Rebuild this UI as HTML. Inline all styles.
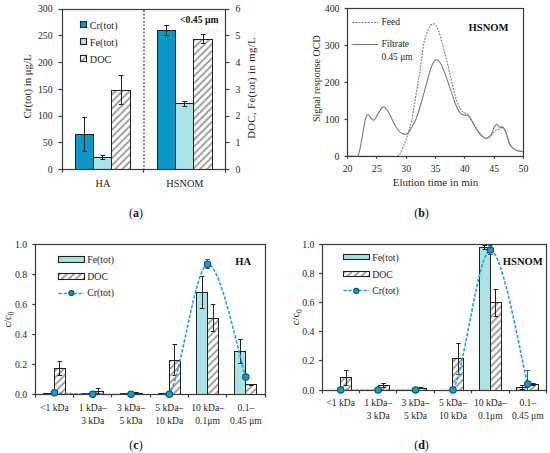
<!DOCTYPE html><html><head><meta charset="utf-8"><style>html,body{margin:0;padding:0;background:#fff;width:550px;height:453px;overflow:hidden}svg{display:block}text{font-family:"Liberation Serif",serif}</style></head><body><svg width="550" height="453" viewBox="0 0 550 453" font-family='"Liberation Serif", serif'>
<defs><pattern id="hatch" patternUnits="userSpaceOnUse" width="5" height="5" patternTransform="rotate(45)"><rect width="5" height="5" fill="#fff"/><line x1="1" y1="0" x2="1" y2="5" stroke="#5c5c5c" stroke-width="1.15"/></pattern>
<clipPath id="clipb"><rect x="347.6" y="8.2" width="175.9" height="148"/></clipPath><clipPath id="clipc"><rect x="35.3" y="200" width="229.7" height="194.5"/></clipPath><clipPath id="clipd"><rect x="322" y="200" width="224.5" height="190.2"/></clipPath></defs>
<rect width="550" height="453" fill="#fff"/>
<line x1="144.00" y1="10.00" x2="144.00" y2="169.60" stroke="#7a7a7a" stroke-width="1.80" stroke-dasharray="1.9,1.7"/>
<rect x="75.50" y="134.50" width="18.00" height="35.00" fill="#0b96c6" stroke="#222" stroke-width="1.00"/>
<rect x="93.50" y="157.50" width="18.00" height="12.00" fill="#abe2e5" stroke="#222" stroke-width="1.00"/>
<rect x="111.50" y="90.50" width="19.00" height="79.00" fill="url(#hatch)" stroke="#222" stroke-width="1.00"/>
<rect x="157.50" y="30.50" width="18.00" height="139.00" fill="#0b96c6" stroke="#222" stroke-width="1.00"/>
<rect x="175.50" y="103.50" width="18.00" height="66.00" fill="#abe2e5" stroke="#222" stroke-width="1.00"/>
<rect x="193.50" y="39.50" width="19.00" height="130.00" fill="url(#hatch)" stroke="#222" stroke-width="1.00"/>
<line x1="84.50" y1="117.14" x2="84.50" y2="151.93" stroke="#222" stroke-width="1.00" />
<line x1="82.35" y1="117.50" x2="86.95" y2="117.50" stroke="#222" stroke-width="1.00" />
<line x1="82.35" y1="151.50" x2="86.95" y2="151.50" stroke="#222" stroke-width="1.00" />
<line x1="102.50" y1="155.68" x2="102.50" y2="159.43" stroke="#222" stroke-width="1.00" />
<line x1="100.60" y1="155.50" x2="105.20" y2="155.50" stroke="#222" stroke-width="1.00" />
<line x1="100.60" y1="159.50" x2="105.20" y2="159.50" stroke="#222" stroke-width="1.00" />
<line x1="121.50" y1="75.11" x2="121.50" y2="104.82" stroke="#222" stroke-width="1.00" />
<line x1="118.85" y1="75.50" x2="123.45" y2="75.50" stroke="#222" stroke-width="1.00" />
<line x1="118.85" y1="104.50" x2="123.45" y2="104.50" stroke="#222" stroke-width="1.00" />
<line x1="166.50" y1="25.06" x2="166.50" y2="35.77" stroke="#222" stroke-width="1.00" />
<line x1="164.35" y1="25.50" x2="168.95" y2="25.50" stroke="#222" stroke-width="1.00" />
<line x1="164.35" y1="35.50" x2="168.95" y2="35.50" stroke="#222" stroke-width="1.00" />
<line x1="184.50" y1="101.34" x2="184.50" y2="106.16" stroke="#222" stroke-width="1.00" />
<line x1="182.60" y1="101.50" x2="187.20" y2="101.50" stroke="#222" stroke-width="1.00" />
<line x1="182.60" y1="106.50" x2="187.20" y2="106.50" stroke="#222" stroke-width="1.00" />
<line x1="203.50" y1="34.96" x2="203.50" y2="43.80" stroke="#222" stroke-width="1.00" />
<line x1="200.85" y1="34.50" x2="205.45" y2="34.50" stroke="#222" stroke-width="1.00" />
<line x1="200.85" y1="43.50" x2="205.45" y2="43.50" stroke="#222" stroke-width="1.00" />
<rect x="62.50" y="9.50" width="163.00" height="160.00" fill="none" stroke="#3a3a3a" stroke-width="1.2"/>
<line x1="58.50" y1="169.50" x2="62.00" y2="169.50" stroke="#3a3a3a" stroke-width="1.20" />
<text x="52.60" y="173.00" font-size="9.80" text-anchor="end" font-weight="normal" fill="#262626" >0</text>
<line x1="58.50" y1="142.50" x2="62.00" y2="142.50" stroke="#3a3a3a" stroke-width="1.20" />
<text x="52.60" y="146.23" font-size="9.80" text-anchor="end" font-weight="normal" fill="#262626" >50</text>
<line x1="58.50" y1="116.50" x2="62.00" y2="116.50" stroke="#3a3a3a" stroke-width="1.20" />
<text x="52.60" y="119.47" font-size="9.80" text-anchor="end" font-weight="normal" fill="#262626" >100</text>
<line x1="58.50" y1="89.50" x2="62.00" y2="89.50" stroke="#3a3a3a" stroke-width="1.20" />
<text x="52.60" y="92.70" font-size="9.80" text-anchor="end" font-weight="normal" fill="#262626" >150</text>
<line x1="58.50" y1="62.50" x2="62.00" y2="62.50" stroke="#3a3a3a" stroke-width="1.20" />
<text x="52.60" y="65.93" font-size="9.80" text-anchor="end" font-weight="normal" fill="#262626" >200</text>
<line x1="58.50" y1="35.50" x2="62.00" y2="35.50" stroke="#3a3a3a" stroke-width="1.20" />
<text x="52.60" y="39.17" font-size="9.80" text-anchor="end" font-weight="normal" fill="#262626" >250</text>
<line x1="58.50" y1="9.50" x2="62.00" y2="9.50" stroke="#3a3a3a" stroke-width="1.20" />
<text x="52.60" y="12.40" font-size="9.80" text-anchor="end" font-weight="normal" fill="#262626" >300</text>
<line x1="225.90" y1="169.50" x2="229.40" y2="169.50" stroke="#3a3a3a" stroke-width="1.20" />
<text x="235.60" y="173.00" font-size="9.80" text-anchor="start" font-weight="normal" fill="#262626" >0</text>
<line x1="225.90" y1="142.50" x2="229.40" y2="142.50" stroke="#3a3a3a" stroke-width="1.20" />
<text x="235.60" y="146.23" font-size="9.80" text-anchor="start" font-weight="normal" fill="#262626" >1</text>
<line x1="225.90" y1="116.50" x2="229.40" y2="116.50" stroke="#3a3a3a" stroke-width="1.20" />
<text x="235.60" y="119.47" font-size="9.80" text-anchor="start" font-weight="normal" fill="#262626" >2</text>
<line x1="225.90" y1="89.50" x2="229.40" y2="89.50" stroke="#3a3a3a" stroke-width="1.20" />
<text x="235.60" y="92.70" font-size="9.80" text-anchor="start" font-weight="normal" fill="#262626" >3</text>
<line x1="225.90" y1="62.50" x2="229.40" y2="62.50" stroke="#3a3a3a" stroke-width="1.20" />
<text x="235.60" y="65.93" font-size="9.80" text-anchor="start" font-weight="normal" fill="#262626" >4</text>
<line x1="225.90" y1="35.50" x2="229.40" y2="35.50" stroke="#3a3a3a" stroke-width="1.20" />
<text x="235.60" y="39.17" font-size="9.80" text-anchor="start" font-weight="normal" fill="#262626" >5</text>
<line x1="225.90" y1="9.50" x2="229.40" y2="9.50" stroke="#3a3a3a" stroke-width="1.20" />
<text x="235.60" y="12.40" font-size="9.80" text-anchor="start" font-weight="normal" fill="#262626" >6</text>
<line x1="62.50" y1="169.60" x2="62.50" y2="172.60" stroke="#3a3a3a" stroke-width="1.20" />
<line x1="143.50" y1="169.60" x2="143.50" y2="172.60" stroke="#3a3a3a" stroke-width="1.20" />
<line x1="225.50" y1="169.60" x2="225.50" y2="172.60" stroke="#3a3a3a" stroke-width="1.20" />
<text x="102.90" y="186.90" font-size="10.30" text-anchor="middle" font-weight="normal" fill="#262626" >HA</text>
<text x="184.90" y="186.90" font-size="10.30" text-anchor="middle" font-weight="normal" fill="#262626" >HSNOM</text>
<text x="31.50" y="86.40" font-size="10.80" text-anchor="middle" font-weight="normal" fill="#262626" transform="rotate(-90 31.5 86.4)">Cr(tot) in μg/L</text>
<text x="255.00" y="88.10" font-size="10.60" text-anchor="middle" font-weight="normal" fill="#262626" textLength="101.4" lengthAdjust="spacing" transform="rotate(-90 255 88.1)">DOC, Fe(tot) in mg/L</text>
<text x="218.50" y="23.20" font-size="9.70" text-anchor="end" font-weight="bold" fill="#111" >&lt;0.45 μm</text>
<rect x="80.50" y="21.50" width="6.00" height="6.00" fill="#0b96c6" stroke="#222" stroke-width="1.10"/>
<text x="89.80" y="29.10" font-size="10.20" text-anchor="start" font-weight="normal" fill="#262626" >Cr(tot)</text>
<rect x="80.50" y="38.50" width="6.00" height="6.00" fill="#abe2e5" stroke="#222" stroke-width="1.10"/>
<text x="89.80" y="46.10" font-size="10.20" text-anchor="start" font-weight="normal" fill="#262626" >Fe(tot)</text>
<rect x="80.50" y="55.50" width="6.00" height="6.00" fill="url(#hatch)" stroke="#222" stroke-width="1.10"/>
<text x="89.80" y="63.10" font-size="10.20" text-anchor="start" font-weight="normal" fill="#262626" >DOC</text>
<text x="136.00" y="217.40" font-size="12.00" text-anchor="middle" font-weight="normal" fill="#111" >(<tspan font-weight="bold">a</tspan>)</text>
<path clip-path="url(#clipb)" d="M347.60,156.20 C362.26,156.20 376.92,156.20 391.58,156.20 C393.43,156.20 395.29,157.26 397.15,156.20 C398.02,155.70 398.90,155.21 399.78,153.98 C400.76,152.61 401.74,150.28 402.72,148.06 C403.69,145.84 404.67,143.37 405.65,140.66 C406.62,137.95 407.60,135.05 408.58,131.78 C409.56,128.51 410.53,125.61 411.51,121.05 C412.49,116.49 413.46,110.26 414.44,104.40 C415.42,98.54 416.40,91.64 417.37,85.90 C418.16,81.31 418.94,77.79 419.72,72.95 C420.99,65.08 422.26,52.14 423.53,45.20 C425.00,37.19 426.46,33.92 427.93,30.40 C429.76,25.99 431.60,23.61 433.44,23.81 C435.12,24.00 436.80,26.25 438.48,30.40 C439.91,33.92 441.34,39.97 442.76,45.20 C445.24,54.30 447.73,64.90 450.21,75.17 C451.79,81.72 453.37,89.74 454.96,95.15 C456.31,99.76 457.65,103.38 459.00,106.25 C460.10,108.58 461.19,110.52 462.29,111.61 C463.15,112.47 464.01,112.49 464.87,112.91 C465.77,113.35 466.66,113.28 467.56,114.20 C468.40,115.07 469.24,116.77 470.09,118.09 C471.67,120.58 473.25,123.34 474.83,125.86 C476.61,128.69 478.39,132.06 480.17,134.11 C482.10,136.34 484.04,138.22 485.97,138.29 C487.15,138.33 488.32,137.76 489.49,136.96 C490.31,136.40 491.13,135.54 491.96,134.74 C493.36,133.37 494.77,131.02 496.18,130.11 C497.41,129.32 498.64,129.91 499.87,129.19 C500.77,128.67 501.67,126.69 502.57,126.97 C503.49,127.26 504.41,129.16 505.32,131.04 C506.81,134.07 508.29,141.14 509.78,144.21 C511.56,147.90 513.34,148.33 515.12,149.61 C517.91,151.63 520.71,151.07 523.50,151.80" fill="none" stroke="#5f7878" stroke-width="1.1" stroke-dasharray="1.8,1.3"/>
<path clip-path="url(#clipb)" d="M347.60,156.20 C349.95,156.20 352.29,156.20 354.64,156.20 C355.81,156.20 356.98,158.75 358.15,156.20 C359.60,153.05 361.05,142.82 362.49,135.11 C363.39,130.32 364.29,123.36 365.19,119.94 C366.07,116.60 366.95,115.04 367.83,114.61 C368.71,114.18 369.59,116.48 370.47,117.35 C371.48,118.36 372.50,120.16 373.52,120.20 C375.24,120.26 376.96,114.77 378.68,112.54 C380.36,110.36 382.04,106.87 383.72,106.92 C385.36,106.96 387.00,110.02 388.64,112.54 C390.70,115.69 392.75,121.58 394.80,125.01 C396.54,127.91 398.28,130.59 400.02,132.15 C401.82,133.76 403.61,134.65 405.41,134.37 C406.27,134.23 407.13,134.03 407.99,133.26 C409.36,132.04 410.73,129.02 412.10,126.60 C413.27,124.53 414.44,122.65 415.61,119.94 C417.80,114.88 419.99,107.07 422.18,99.59 C423.96,93.51 425.74,86.08 427.52,79.98 C429.22,74.15 430.92,67.04 432.62,63.70 C433.97,61.05 435.32,59.74 436.66,59.70 C438.05,59.67 439.44,61.40 440.83,63.70 C442.39,66.29 443.95,71.05 445.52,75.17 C447.80,81.20 450.09,88.65 452.38,95.15 C453.61,98.65 454.84,102.66 456.07,105.51 C457.69,109.27 459.32,112.10 460.94,113.65 C462.25,114.90 463.56,114.80 464.87,115.13 C466.00,115.41 467.13,114.68 468.27,115.61 C469.09,116.28 469.91,117.61 470.73,118.83 C472.29,121.15 473.86,124.81 475.42,127.34 C477.00,129.91 478.59,132.36 480.17,134.11 C482.10,136.26 484.04,138.35 485.97,138.29 C487.15,138.26 488.32,137.83 489.49,136.59 C490.31,135.72 491.13,134.66 491.96,133.00 C492.70,131.50 493.44,128.81 494.18,127.34 C494.85,126.03 495.51,124.87 496.18,124.42 C497.41,123.59 498.64,127.03 499.87,127.34 C500.77,127.57 501.67,126.38 502.57,126.97 C503.49,127.58 504.41,129.16 505.32,131.04 C506.81,134.07 508.29,141.14 509.78,144.21 C511.56,147.90 513.34,148.33 515.12,149.61 C517.91,151.63 520.71,151.07 523.50,151.80" fill="none" stroke="#7a7a7a" stroke-width="1.1"/>
<rect x="347.50" y="8.50" width="176.00" height="148.00" fill="none" stroke="#3a3a3a" stroke-width="1.2"/>
<line x1="344.60" y1="156.50" x2="347.60" y2="156.50" stroke="#3a3a3a" stroke-width="1.20" />
<text x="339.50" y="159.60" font-size="9.80" text-anchor="end" font-weight="normal" fill="#262626" >0</text>
<line x1="344.60" y1="119.50" x2="347.60" y2="119.50" stroke="#3a3a3a" stroke-width="1.20" />
<text x="339.50" y="122.60" font-size="9.80" text-anchor="end" font-weight="normal" fill="#262626" >100</text>
<line x1="344.60" y1="82.50" x2="347.60" y2="82.50" stroke="#3a3a3a" stroke-width="1.20" />
<text x="339.50" y="85.60" font-size="9.80" text-anchor="end" font-weight="normal" fill="#262626" >200</text>
<line x1="344.60" y1="45.50" x2="347.60" y2="45.50" stroke="#3a3a3a" stroke-width="1.20" />
<text x="339.50" y="48.60" font-size="9.80" text-anchor="end" font-weight="normal" fill="#262626" >300</text>
<line x1="344.60" y1="8.50" x2="347.60" y2="8.50" stroke="#3a3a3a" stroke-width="1.20" />
<text x="339.50" y="11.60" font-size="9.80" text-anchor="end" font-weight="normal" fill="#262626" >400</text>
<line x1="347.50" y1="156.20" x2="347.50" y2="158.70" stroke="#3a3a3a" stroke-width="1.20" />
<text x="347.60" y="171.80" font-size="9.80" text-anchor="middle" font-weight="normal" fill="#262626" >20</text>
<line x1="376.50" y1="156.20" x2="376.50" y2="158.70" stroke="#3a3a3a" stroke-width="1.20" />
<text x="376.92" y="171.80" font-size="9.80" text-anchor="middle" font-weight="normal" fill="#262626" >25</text>
<line x1="406.50" y1="156.20" x2="406.50" y2="158.70" stroke="#3a3a3a" stroke-width="1.20" />
<text x="406.23" y="171.80" font-size="9.80" text-anchor="middle" font-weight="normal" fill="#262626" >30</text>
<line x1="435.50" y1="156.20" x2="435.50" y2="158.70" stroke="#3a3a3a" stroke-width="1.20" />
<text x="435.55" y="171.80" font-size="9.80" text-anchor="middle" font-weight="normal" fill="#262626" >35</text>
<line x1="464.50" y1="156.20" x2="464.50" y2="158.70" stroke="#3a3a3a" stroke-width="1.20" />
<text x="464.87" y="171.80" font-size="9.80" text-anchor="middle" font-weight="normal" fill="#262626" >40</text>
<line x1="494.50" y1="156.20" x2="494.50" y2="158.70" stroke="#3a3a3a" stroke-width="1.20" />
<text x="494.18" y="171.80" font-size="9.80" text-anchor="middle" font-weight="normal" fill="#262626" >45</text>
<line x1="523.50" y1="156.20" x2="523.50" y2="158.70" stroke="#3a3a3a" stroke-width="1.20" />
<text x="523.50" y="171.80" font-size="9.80" text-anchor="middle" font-weight="normal" fill="#262626" >50</text>
<text x="435.50" y="185.50" font-size="10.95" text-anchor="middle" font-weight="normal" fill="#262626" >Elution time in min</text>
<text x="320.00" y="78.70" font-size="10.00" text-anchor="middle" font-weight="normal" fill="#262626" transform="rotate(-90 320 78.7)">Signal response OCD</text>
<line x1="352.30" y1="22.50" x2="378.20" y2="22.50" stroke="#5f7878" stroke-width="1.10" stroke-dasharray="1.8,1.3"/>
<line x1="352.30" y1="44.50" x2="378.20" y2="44.50" stroke="#7a7a7a" stroke-width="1.10" />
<text x="381.40" y="24.80" font-size="9.60" text-anchor="start" font-weight="normal" fill="#262626" >Feed</text>
<text x="381.40" y="47.10" font-size="9.60" text-anchor="start" font-weight="normal" fill="#262626" >Filtrate</text>
<text x="381.40" y="59.50" font-size="9.40" text-anchor="start" font-weight="normal" fill="#262626" >0.45 μm</text>
<text x="488.60" y="31.40" font-size="10.60" text-anchor="middle" font-weight="bold" fill="#111" >HSNOM</text>
<text x="421.50" y="217.40" font-size="12.00" text-anchor="middle" font-weight="normal" fill="#111" >(<tspan font-weight="bold">b</tspan>)</text>
<rect x="43.50" y="393.50" width="11.00" height="1.00" fill="#abe2e5" stroke="#222" stroke-width="1.00"/>
<rect x="54.50" y="368.50" width="11.00" height="26.00" fill="url(#hatch)" stroke="#222" stroke-width="1.00"/>
<rect x="81.50" y="393.50" width="11.00" height="1.00" fill="#abe2e5" stroke="#222" stroke-width="1.00"/>
<rect x="92.50" y="391.50" width="11.00" height="3.00" fill="url(#hatch)" stroke="#222" stroke-width="1.00"/>
<rect x="120.50" y="393.50" width="11.00" height="1.00" fill="#abe2e5" stroke="#222" stroke-width="1.00"/>
<rect x="131.50" y="393.50" width="11.00" height="1.00" fill="url(#hatch)" stroke="#222" stroke-width="1.00"/>
<rect x="158.50" y="393.50" width="11.00" height="1.00" fill="#abe2e5" stroke="#222" stroke-width="1.00"/>
<rect x="169.50" y="360.50" width="11.00" height="34.00" fill="url(#hatch)" stroke="#222" stroke-width="1.00"/>
<rect x="196.50" y="292.50" width="11.00" height="102.00" fill="#abe2e5" stroke="#222" stroke-width="1.00"/>
<rect x="207.50" y="318.50" width="11.00" height="76.00" fill="url(#hatch)" stroke="#222" stroke-width="1.00"/>
<rect x="234.50" y="351.50" width="11.00" height="43.00" fill="#abe2e5" stroke="#222" stroke-width="1.00"/>
<rect x="245.50" y="384.50" width="11.00" height="10.00" fill="url(#hatch)" stroke="#222" stroke-width="1.00"/>
<line x1="59.50" y1="361.39" x2="59.50" y2="375.33" stroke="#222" stroke-width="1.00" />
<line x1="57.69" y1="361.50" x2="62.19" y2="361.50" stroke="#222" stroke-width="1.00" />
<line x1="57.69" y1="375.50" x2="62.19" y2="375.50" stroke="#222" stroke-width="1.00" />
<line x1="98.50" y1="388.96" x2="98.50" y2="393.75" stroke="#222" stroke-width="1.00" />
<line x1="95.97" y1="388.50" x2="100.47" y2="388.50" stroke="#222" stroke-width="1.00" />
<line x1="95.97" y1="393.50" x2="100.47" y2="393.50" stroke="#222" stroke-width="1.00" />
<line x1="136.50" y1="392.25" x2="136.50" y2="393.75" stroke="#222" stroke-width="1.00" />
<line x1="134.26" y1="392.50" x2="138.76" y2="392.50" stroke="#222" stroke-width="1.00" />
<line x1="134.26" y1="393.50" x2="138.76" y2="393.50" stroke="#222" stroke-width="1.00" />
<line x1="174.50" y1="344.02" x2="174.50" y2="375.33" stroke="#222" stroke-width="1.00" />
<line x1="172.54" y1="344.50" x2="177.04" y2="344.50" stroke="#222" stroke-width="1.00" />
<line x1="172.54" y1="375.50" x2="177.04" y2="375.50" stroke="#222" stroke-width="1.00" />
<line x1="202.50" y1="276.61" x2="202.50" y2="308.81" stroke="#222" stroke-width="1.00" />
<line x1="199.82" y1="276.50" x2="204.32" y2="276.50" stroke="#222" stroke-width="1.00" />
<line x1="199.82" y1="308.50" x2="204.32" y2="308.50" stroke="#222" stroke-width="1.00" />
<line x1="213.50" y1="304.92" x2="213.50" y2="331.88" stroke="#222" stroke-width="1.00" />
<line x1="210.82" y1="304.50" x2="215.32" y2="304.50" stroke="#222" stroke-width="1.00" />
<line x1="210.82" y1="331.50" x2="215.32" y2="331.50" stroke="#222" stroke-width="1.00" />
<line x1="240.50" y1="339.52" x2="240.50" y2="363.49" stroke="#222" stroke-width="1.00" />
<line x1="238.11" y1="339.50" x2="242.61" y2="339.50" stroke="#222" stroke-width="1.00" />
<line x1="238.11" y1="363.50" x2="242.61" y2="363.50" stroke="#222" stroke-width="1.00" />
<line x1="251.50" y1="384.01" x2="251.50" y2="385.21" stroke="#222" stroke-width="1.00" />
<line x1="249.11" y1="384.50" x2="253.61" y2="384.50" stroke="#222" stroke-width="1.00" />
<line x1="249.11" y1="385.50" x2="253.61" y2="385.50" stroke="#222" stroke-width="1.00" />
<path clip-path="url(#clipc)" d="M54.44,393.00 C60.82,393.25 79.96,394.25 92.72,394.50 C105.49,394.75 118.25,394.50 131.01,394.50 C143.77,394.50 156.53,416.17 169.29,394.50 C182.05,372.83 194.81,267.32 207.57,264.47 C220.34,261.63 239.48,358.60 245.86,377.42" fill="none" stroke="#1fa3d8" stroke-width="1.6" stroke-dasharray="3.4,1.6"/>
<line x1="207.50" y1="259.38" x2="207.50" y2="268.97" stroke="#555" stroke-width="1.00" />
<line x1="205.32" y1="259.50" x2="209.82" y2="259.50" stroke="#555" stroke-width="1.00" />
<line x1="205.32" y1="268.50" x2="209.82" y2="268.50" stroke="#555" stroke-width="1.00" />
<rect x="35.50" y="244.50" width="230.00" height="150.00" fill="none" stroke="#3a3a3a" stroke-width="1.2"/>
<line x1="32.30" y1="394.50" x2="35.30" y2="394.50" stroke="#3a3a3a" stroke-width="1.20" />
<text x="27.20" y="397.90" font-size="9.80" text-anchor="end" font-weight="normal" fill="#262626" >0.0</text>
<line x1="32.30" y1="364.50" x2="35.30" y2="364.50" stroke="#3a3a3a" stroke-width="1.20" />
<text x="27.20" y="367.94" font-size="9.80" text-anchor="end" font-weight="normal" fill="#262626" >0.2</text>
<line x1="32.30" y1="334.50" x2="35.30" y2="334.50" stroke="#3a3a3a" stroke-width="1.20" />
<text x="27.20" y="337.98" font-size="9.80" text-anchor="end" font-weight="normal" fill="#262626" >0.4</text>
<line x1="32.30" y1="304.50" x2="35.30" y2="304.50" stroke="#3a3a3a" stroke-width="1.20" />
<text x="27.20" y="308.02" font-size="9.80" text-anchor="end" font-weight="normal" fill="#262626" >0.6</text>
<line x1="32.30" y1="274.50" x2="35.30" y2="274.50" stroke="#3a3a3a" stroke-width="1.20" />
<text x="27.20" y="278.06" font-size="9.80" text-anchor="end" font-weight="normal" fill="#262626" >0.8</text>
<line x1="32.30" y1="244.50" x2="35.30" y2="244.50" stroke="#3a3a3a" stroke-width="1.20" />
<text x="27.20" y="248.10" font-size="9.80" text-anchor="end" font-weight="normal" fill="#262626" >1.0</text>
<line x1="35.50" y1="394.50" x2="35.50" y2="397.50" stroke="#3a3a3a" stroke-width="1.20" />
<line x1="73.50" y1="394.50" x2="73.50" y2="397.50" stroke="#3a3a3a" stroke-width="1.20" />
<line x1="111.50" y1="394.50" x2="111.50" y2="397.50" stroke="#3a3a3a" stroke-width="1.20" />
<line x1="150.50" y1="394.50" x2="150.50" y2="397.50" stroke="#3a3a3a" stroke-width="1.20" />
<line x1="188.50" y1="394.50" x2="188.50" y2="397.50" stroke="#3a3a3a" stroke-width="1.20" />
<line x1="226.50" y1="394.50" x2="226.50" y2="397.50" stroke="#3a3a3a" stroke-width="1.20" />
<line x1="265.50" y1="394.50" x2="265.50" y2="397.50" stroke="#3a3a3a" stroke-width="1.20" />
<circle cx="54.44" cy="392.70" r="3.20" fill="#1b9bcb" stroke="#0b4d6b" stroke-width="1.1"/>
<circle cx="92.72" cy="394.20" r="3.20" fill="#1b9bcb" stroke="#0b4d6b" stroke-width="1.1"/>
<circle cx="131.01" cy="394.20" r="3.20" fill="#1b9bcb" stroke="#0b4d6b" stroke-width="1.1"/>
<circle cx="169.29" cy="394.20" r="3.20" fill="#1b9bcb" stroke="#0b4d6b" stroke-width="1.1"/>
<circle cx="207.57" cy="264.17" r="3.20" fill="#1b9bcb" stroke="#0b4d6b" stroke-width="1.1"/>
<circle cx="245.86" cy="377.12" r="3.20" fill="#1b9bcb" stroke="#0b4d6b" stroke-width="1.1"/>
<text x="54.44" y="411.00" font-size="9.60" text-anchor="middle" font-weight="normal" fill="#262626" >&lt;1 kDa</text>
<text x="92.72" y="411.00" font-size="9.60" text-anchor="middle" font-weight="normal" fill="#262626" >1 kDa–</text>
<text x="92.72" y="423.60" font-size="9.60" text-anchor="middle" font-weight="normal" fill="#262626" >3 kDa</text>
<text x="131.01" y="411.00" font-size="9.60" text-anchor="middle" font-weight="normal" fill="#262626" >3 kDa–</text>
<text x="131.01" y="423.60" font-size="9.60" text-anchor="middle" font-weight="normal" fill="#262626" >5 kDa</text>
<text x="169.29" y="411.00" font-size="9.60" text-anchor="middle" font-weight="normal" fill="#262626" >5 kDa–</text>
<text x="169.29" y="423.60" font-size="9.60" text-anchor="middle" font-weight="normal" fill="#262626" >10 kDa</text>
<text x="207.57" y="411.00" font-size="9.60" text-anchor="middle" font-weight="normal" fill="#262626" >10 kDa–</text>
<text x="207.57" y="423.60" font-size="9.60" text-anchor="middle" font-weight="normal" fill="#262626" >0.1μm</text>
<text x="245.86" y="411.00" font-size="9.60" text-anchor="middle" font-weight="normal" fill="#262626" >0.1–</text>
<text x="245.86" y="423.60" font-size="9.60" text-anchor="middle" font-weight="normal" fill="#262626" >0.45 μm</text>
<text x="11.20" y="319.60" font-size="10.5" fill="#262626" text-anchor="middle" transform="rotate(-90 11.20 319.60)">c/c<tspan font-size="7.5" dy="2.5">0</tspan></text>
<rect x="58.50" y="256.50" width="26.00" height="6.00" fill="#abe2e5" stroke="#222" stroke-width="1.10"/>
<rect x="58.50" y="273.50" width="26.00" height="6.00" fill="url(#hatch)" stroke="#222" stroke-width="1.10"/>
<line x1="58.50" y1="293.50" x2="84.30" y2="293.50" stroke="#1fa3d8" stroke-width="1.60" stroke-dasharray="3.4,1.6"/>
<circle cx="71.40" cy="293.10" r="2.50" fill="#1b9bcb" stroke="#0b4d6b" stroke-width="1.1"/>
<text x="87.30" y="263.20" font-size="9.80" text-anchor="start" font-weight="normal" fill="#262626" >Fe(tot)</text>
<text x="87.30" y="280.20" font-size="9.80" text-anchor="start" font-weight="normal" fill="#262626" >DOC</text>
<text x="87.30" y="296.40" font-size="9.80" text-anchor="start" font-weight="normal" fill="#262626" >Cr(tot)</text>
<text x="243.10" y="264.70" font-size="10.60" text-anchor="middle" font-weight="bold" fill="#111" >HA</text>
<text x="136.00" y="449.20" font-size="12.00" text-anchor="middle" font-weight="normal" fill="#111" >(<tspan font-weight="bold">c</tspan>)</text>
<rect x="340.50" y="377.50" width="11.00" height="13.00" fill="url(#hatch)" stroke="#222" stroke-width="1.00"/>
<rect x="378.50" y="385.50" width="11.00" height="5.00" fill="url(#hatch)" stroke="#222" stroke-width="1.00"/>
<rect x="415.50" y="388.50" width="11.00" height="2.00" fill="url(#hatch)" stroke="#222" stroke-width="1.00"/>
<rect x="452.50" y="358.50" width="11.00" height="32.00" fill="url(#hatch)" stroke="#222" stroke-width="1.00"/>
<rect x="479.50" y="247.50" width="11.00" height="143.00" fill="#abe2e5" stroke="#222" stroke-width="1.00"/>
<rect x="490.50" y="302.50" width="11.00" height="88.00" fill="url(#hatch)" stroke="#222" stroke-width="1.00"/>
<rect x="516.50" y="387.50" width="11.00" height="3.00" fill="#abe2e5" stroke="#222" stroke-width="1.00"/>
<rect x="527.50" y="384.50" width="11.00" height="6.00" fill="url(#hatch)" stroke="#222" stroke-width="1.00"/>
<line x1="346.50" y1="370.48" x2="346.50" y2="385.38" stroke="#222" stroke-width="1.00" />
<line x1="343.96" y1="370.50" x2="348.46" y2="370.50" stroke="#222" stroke-width="1.00" />
<line x1="343.96" y1="385.50" x2="348.46" y2="385.50" stroke="#222" stroke-width="1.00" />
<line x1="383.50" y1="383.63" x2="383.50" y2="387.28" stroke="#222" stroke-width="1.00" />
<line x1="381.38" y1="383.50" x2="385.88" y2="383.50" stroke="#222" stroke-width="1.00" />
<line x1="381.38" y1="387.50" x2="385.88" y2="387.50" stroke="#222" stroke-width="1.00" />
<line x1="421.50" y1="387.28" x2="421.50" y2="388.74" stroke="#222" stroke-width="1.00" />
<line x1="418.79" y1="387.50" x2="423.29" y2="387.50" stroke="#222" stroke-width="1.00" />
<line x1="418.79" y1="388.50" x2="423.29" y2="388.50" stroke="#222" stroke-width="1.00" />
<line x1="458.50" y1="343.01" x2="458.50" y2="374.13" stroke="#222" stroke-width="1.00" />
<line x1="456.21" y1="343.50" x2="460.71" y2="343.50" stroke="#222" stroke-width="1.00" />
<line x1="456.21" y1="374.50" x2="460.71" y2="374.50" stroke="#222" stroke-width="1.00" />
<line x1="484.50" y1="245.56" x2="484.50" y2="249.94" stroke="#222" stroke-width="1.00" />
<line x1="482.62" y1="245.50" x2="487.12" y2="245.50" stroke="#222" stroke-width="1.00" />
<line x1="482.62" y1="249.50" x2="487.12" y2="249.50" stroke="#222" stroke-width="1.00" />
<line x1="495.50" y1="289.39" x2="495.50" y2="316.42" stroke="#222" stroke-width="1.00" />
<line x1="493.62" y1="289.50" x2="498.12" y2="289.50" stroke="#222" stroke-width="1.00" />
<line x1="493.62" y1="316.50" x2="498.12" y2="316.50" stroke="#222" stroke-width="1.00" />
<line x1="522.50" y1="385.82" x2="522.50" y2="389.03" stroke="#222" stroke-width="1.00" />
<line x1="520.04" y1="385.50" x2="524.54" y2="385.50" stroke="#222" stroke-width="1.00" />
<line x1="520.04" y1="389.50" x2="524.54" y2="389.50" stroke="#222" stroke-width="1.00" />
<line x1="533.50" y1="383.63" x2="533.50" y2="385.09" stroke="#222" stroke-width="1.00" />
<line x1="531.04" y1="383.50" x2="535.54" y2="383.50" stroke="#222" stroke-width="1.00" />
<line x1="531.04" y1="385.50" x2="535.54" y2="385.50" stroke="#222" stroke-width="1.00" />
<path clip-path="url(#clipd)" d="M340.71,390.20 C346.94,390.20 365.65,390.20 378.12,390.20 C390.60,390.20 403.07,390.20 415.54,390.20 C428.01,390.20 440.49,413.50 452.96,390.20 C465.43,366.90 477.90,251.36 490.38,250.38 C502.85,249.41 521.56,362.03 527.79,384.36" fill="none" stroke="#1fa3d8" stroke-width="1.6" stroke-dasharray="3.4,1.6"/>
<line x1="490.50" y1="245.56" x2="490.50" y2="254.33" stroke="#555" stroke-width="1.00" />
<line x1="488.12" y1="245.50" x2="492.62" y2="245.50" stroke="#555" stroke-width="1.00" />
<line x1="488.12" y1="254.50" x2="492.62" y2="254.50" stroke="#555" stroke-width="1.00" />
<line x1="527.50" y1="370.04" x2="527.50" y2="390.20" stroke="#555" stroke-width="1.00" />
<line x1="525.54" y1="370.50" x2="530.04" y2="370.50" stroke="#555" stroke-width="1.00" />
<line x1="525.54" y1="390.50" x2="530.04" y2="390.50" stroke="#555" stroke-width="1.00" />
<rect x="322.50" y="244.50" width="224.00" height="146.00" fill="none" stroke="#3a3a3a" stroke-width="1.2"/>
<line x1="319.00" y1="390.50" x2="322.00" y2="390.50" stroke="#3a3a3a" stroke-width="1.20" />
<text x="314.50" y="393.60" font-size="9.80" text-anchor="end" font-weight="normal" fill="#262626" >0.0</text>
<line x1="319.00" y1="360.50" x2="322.00" y2="360.50" stroke="#3a3a3a" stroke-width="1.20" />
<text x="314.50" y="364.38" font-size="9.80" text-anchor="end" font-weight="normal" fill="#262626" >0.2</text>
<line x1="319.00" y1="331.50" x2="322.00" y2="331.50" stroke="#3a3a3a" stroke-width="1.20" />
<text x="314.50" y="335.16" font-size="9.80" text-anchor="end" font-weight="normal" fill="#262626" >0.4</text>
<line x1="319.00" y1="302.50" x2="322.00" y2="302.50" stroke="#3a3a3a" stroke-width="1.20" />
<text x="314.50" y="305.94" font-size="9.80" text-anchor="end" font-weight="normal" fill="#262626" >0.6</text>
<line x1="319.00" y1="273.50" x2="322.00" y2="273.50" stroke="#3a3a3a" stroke-width="1.20" />
<text x="314.50" y="276.72" font-size="9.80" text-anchor="end" font-weight="normal" fill="#262626" >0.8</text>
<line x1="319.00" y1="244.50" x2="322.00" y2="244.50" stroke="#3a3a3a" stroke-width="1.20" />
<text x="314.50" y="247.50" font-size="9.80" text-anchor="end" font-weight="normal" fill="#262626" >1.0</text>
<line x1="322.50" y1="390.20" x2="322.50" y2="393.20" stroke="#3a3a3a" stroke-width="1.20" />
<line x1="359.50" y1="390.20" x2="359.50" y2="393.20" stroke="#3a3a3a" stroke-width="1.20" />
<line x1="396.50" y1="390.20" x2="396.50" y2="393.20" stroke="#3a3a3a" stroke-width="1.20" />
<line x1="434.50" y1="390.20" x2="434.50" y2="393.20" stroke="#3a3a3a" stroke-width="1.20" />
<line x1="471.50" y1="390.20" x2="471.50" y2="393.20" stroke="#3a3a3a" stroke-width="1.20" />
<line x1="509.50" y1="390.20" x2="509.50" y2="393.20" stroke="#3a3a3a" stroke-width="1.20" />
<line x1="546.50" y1="390.20" x2="546.50" y2="393.20" stroke="#3a3a3a" stroke-width="1.20" />
<circle cx="340.71" cy="389.90" r="3.20" fill="#1b9bcb" stroke="#0b4d6b" stroke-width="1.1"/>
<circle cx="378.12" cy="389.90" r="3.20" fill="#1b9bcb" stroke="#0b4d6b" stroke-width="1.1"/>
<circle cx="415.54" cy="389.90" r="3.20" fill="#1b9bcb" stroke="#0b4d6b" stroke-width="1.1"/>
<circle cx="452.96" cy="389.90" r="3.20" fill="#1b9bcb" stroke="#0b4d6b" stroke-width="1.1"/>
<circle cx="490.38" cy="250.08" r="3.20" fill="#1b9bcb" stroke="#0b4d6b" stroke-width="1.1"/>
<circle cx="527.79" cy="384.06" r="3.20" fill="#1b9bcb" stroke="#0b4d6b" stroke-width="1.1"/>
<text x="340.71" y="406.20" font-size="9.60" text-anchor="middle" font-weight="normal" fill="#262626" >&lt;1 kDa</text>
<text x="378.12" y="406.20" font-size="9.60" text-anchor="middle" font-weight="normal" fill="#262626" >1 kDa–</text>
<text x="378.12" y="418.80" font-size="9.60" text-anchor="middle" font-weight="normal" fill="#262626" >3 kDa</text>
<text x="415.54" y="406.20" font-size="9.60" text-anchor="middle" font-weight="normal" fill="#262626" >3 kDa–</text>
<text x="415.54" y="418.80" font-size="9.60" text-anchor="middle" font-weight="normal" fill="#262626" >5 kDa</text>
<text x="452.96" y="406.20" font-size="9.60" text-anchor="middle" font-weight="normal" fill="#262626" >5 kDa–</text>
<text x="452.96" y="418.80" font-size="9.60" text-anchor="middle" font-weight="normal" fill="#262626" >10 kDa</text>
<text x="490.38" y="406.20" font-size="9.60" text-anchor="middle" font-weight="normal" fill="#262626" >10 kDa–</text>
<text x="490.38" y="418.80" font-size="9.60" text-anchor="middle" font-weight="normal" fill="#262626" >0.1μm</text>
<text x="527.79" y="406.20" font-size="9.60" text-anchor="middle" font-weight="normal" fill="#262626" >0.1–</text>
<text x="527.79" y="418.80" font-size="9.60" text-anchor="middle" font-weight="normal" fill="#262626" >0.45 μm</text>
<text x="299.20" y="317.15" font-size="10.5" fill="#262626" text-anchor="middle" transform="rotate(-90 299.20 317.15)">c/c<tspan font-size="7.5" dy="2.5">0</tspan></text>
<rect x="343.50" y="254.50" width="26.00" height="5.00" fill="#abe2e5" stroke="#222" stroke-width="1.10"/>
<rect x="343.50" y="271.50" width="26.00" height="5.00" fill="url(#hatch)" stroke="#222" stroke-width="1.10"/>
<line x1="343.40" y1="290.50" x2="369.20" y2="290.50" stroke="#1fa3d8" stroke-width="1.60" stroke-dasharray="3.4,1.6"/>
<circle cx="356.30" cy="290.90" r="2.50" fill="#1b9bcb" stroke="#0b4d6b" stroke-width="1.1"/>
<text x="372.20" y="261.00" font-size="9.80" text-anchor="start" font-weight="normal" fill="#262626" >Fe(tot)</text>
<text x="372.20" y="278.00" font-size="9.80" text-anchor="start" font-weight="normal" fill="#262626" >DOC</text>
<text x="372.20" y="294.20" font-size="9.80" text-anchor="start" font-weight="normal" fill="#262626" >Cr(tot)</text>
<text x="522.80" y="264.70" font-size="10.60" text-anchor="middle" font-weight="bold" fill="#111" >HSNOM</text>
<text x="421.50" y="449.20" font-size="12.00" text-anchor="middle" font-weight="normal" fill="#111" >(<tspan font-weight="bold">d</tspan>)</text>
</svg></body></html>
